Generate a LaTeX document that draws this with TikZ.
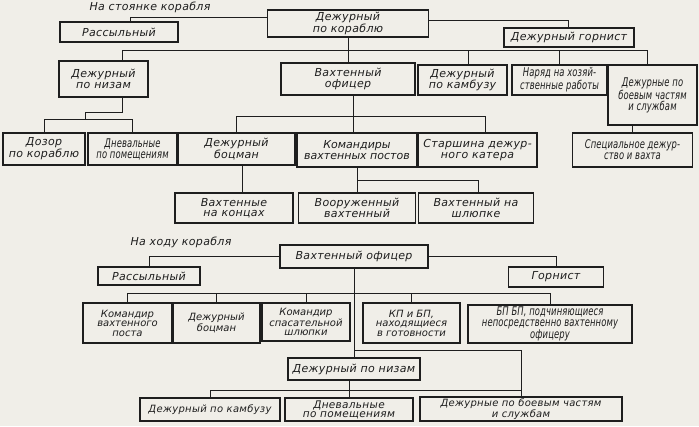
\documentclass[tikz,border=0pt]{standalone}
\usepackage{fontspec}
\usepackage{tikz}

% Шрифты чертёжного типа
\newfontfamily\gosttext[LetterSpace=3]{DejaVu Sans}
\newfontfamily\gostplain{DejaVu Sans}
\newfontfamily\gostnarrow[LetterSpace=1,FakeStretch=0.7]{DejaVu Sans}

\begin{document}
\begin{tikzpicture}[x=1pt,y=-1pt]

% Цвета
\definecolor{paper}{HTML}{F0EEE8}
\definecolor{ink}{HTML}{1E1E1E}

\tikzset{
  box/.style 2 args={draw=ink, line width=1.7pt, inner sep=1pt, align=center,
    text=ink, minimum width=#1, minimum height=#2,
    font=\gosttext\itshape\fontsize{11}{10.5}\selectfont},
  narrow/.style={font=\gostnarrow\itshape\fontsize{12}{11}\selectfont},
  plain/.style={font=\gostplain\itshape\fontsize{11}{10.5}\selectfont},
  small/.style={font=\gostplain\itshape\fontsize{10}{9.5}\selectfont},
  lower/.style={font=\gosttext\itshape\fontsize{10}{9}\selectfont},
  tight/.style={font=\gosttext\itshape\fontsize{10.5}{9}\selectfont},
  heading/.style={text=ink, font=\gosttext\itshape\fontsize{11}{10}\selectfont},
  link/.style={draw=ink, line width=1pt}
}

\useasboundingbox (0,0) rectangle (699,426);
\fill[paper] (0,0) rectangle (699,426);

% На стоянке корабля
\node[heading] (t1) at (150,7) {На стоянке корабля};
\node[box={161}{27}] (dk) at (348,23.5) {Дежурный\\по кораблю};
\node[box={118}{20}] (ras1) at (119,32) {Рассыльный};
\node[box={130}{19}] (gorn1) at (569,37.5) {Дежурный горнист};

\node[box={89}{36}] (dn1) at (103.5,79) {Дежурный\\по низам};
\node[box={134}{32}] (vo1) at (348,79) {Вахтенный\\офицер};
\node[box={89}{30}] (kamb1) at (462.5,80) {Дежурный\\по камбузу};
\node[box={95}{30}, narrow] (naryad) at (559.5,80) {Наряд на хозяй-\\ственные работы};
\node[box={89}{60}, narrow] (bch1) at (652.5,95) {Дежурные по\\боевым частям\\и службам};

\node[box={82}{32}] (dozor) at (44,149) {Дозор\\по кораблю};
\node[box={89}{32}, narrow] (dnev1) at (132.5,149) {Дневальные\\по помещениям};
\node[box={117}{32}] (bocm1) at (236.5,149) {Дежурный\\боцман};
\node[box={120}{34}, plain] (komvp) at (357,150) {Командиры\\вахтенных постов};
\node[box={119}{34}] (star) at (477.5,150) {Старшина дежур-\\ного катера};
\node[box={120}{34}, narrow] (spec) at (632.5,150) {Специальное дежур-\\ство и вахта};

\node[box={118}{30}] (vkon) at (234,208) {Вахтенные\\на концах};
\node[box={117}{30}] (vvah) at (357,208) {Вооруженный\\вахтенный};
\node[box={115}{30}] (vshl) at (476,208) {Вахтенный на\\шлюпке};

\draw[link] ([yshift=6.5]dk.west) -| ([xshift=11]ras1.north);
\draw[link] ([yshift=3.5]dk.east) -| ([xshift=-1]gorn1.north);
\draw[link] (dk.south) -- (vo1.north);
\draw[link] ([xshift=18.5]dn1.north) -- ++(0,-10) -| ([xshift=-5.5]bch1.north);
\draw[link] ([xshift=5.5]kamb1.north) -- ++(0,-14);
\draw[link] (naryad.north) -- ++(0,-14);

\draw[link] ([xshift=19]dn1.south) |- ++(-37,15) -- ++(0,7);
\draw[link] (dozor.north) |- (dnev1.north |- 0,119) -- (dnev1.north);

\draw[link] ([xshift=5]vo1.south) -- ([xshift=-4]komvp.north);
\draw[link] (bocm1.north) -- ++(0,-16) -| ([xshift=7.5]star.north);
\draw[link] ([xshift=5.5]bocm1.south) -- ([xshift=8]vkon.north);
\draw[link] (komvp.south) -- (vvah.north);
\draw[link] (komvp.south) ++(0,13) -| ([xshift=2]vshl.north);
\draw[link] ([xshift=-20]bch1.south) -- (spec.north);

% На ходу корабля
\node[heading] (t2) at (181,242) {На ходу корабля};
\node[box={148}{23}] (vo2) at (354,256.5) {Вахтенный офицер};
\node[box={102}{18}] (ras2) at (149,276) {Рассыльный};
\node[box={95}{20}] (gorn2) at (556,277) {Горнист};

\node[box={89}{40}, small] (kvpost) at (127.5,323) {Командир\\вахтенного\\поста};
\node[box={87}{40}, small] (bocm2) at (216.5,323) {Дежурный\\боцман};
\node[box={88}{38}, small] (kshl) at (306,322) {Командир\\спасательной\\шлюпки};
\node[box={97}{40}, small] (kpbp) at (411.5,323) {КП и БП,\\находящиеся\\в готовности};
\node[box={164}{38}, narrow] (bpbp) at (550,324) {БП БП, подчиняющиеся\\непосредственно вахтенному\\офицеру};

\node[box={132}{22}] (dn2) at (354,369) {Дежурный по низам};
\node[box={140}{23}, lower] (kamb2) at (210,409.5) {Дежурный по камбузу};
\node[box={128}{23}, tight] (dnev2) at (349,409.5) {Дневальные\\по помещениям};
\node[box={202}{24}, lower] (bch2) at (521,409) {Дежурные по боевым частям\\и службам};

\draw[link] (vo2.west) -| (ras2.north);
\draw[link] (vo2.east) -| (gorn2.north);
\draw[link] (vo2.south) -- (dn2.north);
\draw[link] (kvpost.north) -- ++(0,-9) -| (bpbp.north);
\foreach \n in {bocm2,kshl,kpbp}
  \draw[link] (\n.north) -- ++(0,-9);
\draw[link] (vo2.south |- 0,350) -| (bch2.north);
\draw[link] ([xshift=-5]dn2.south) -- (dnev2.north);
\draw[link] (kamb2.north) |- (bch2.north |- 0,390);

\end{tikzpicture}
\end{document}
